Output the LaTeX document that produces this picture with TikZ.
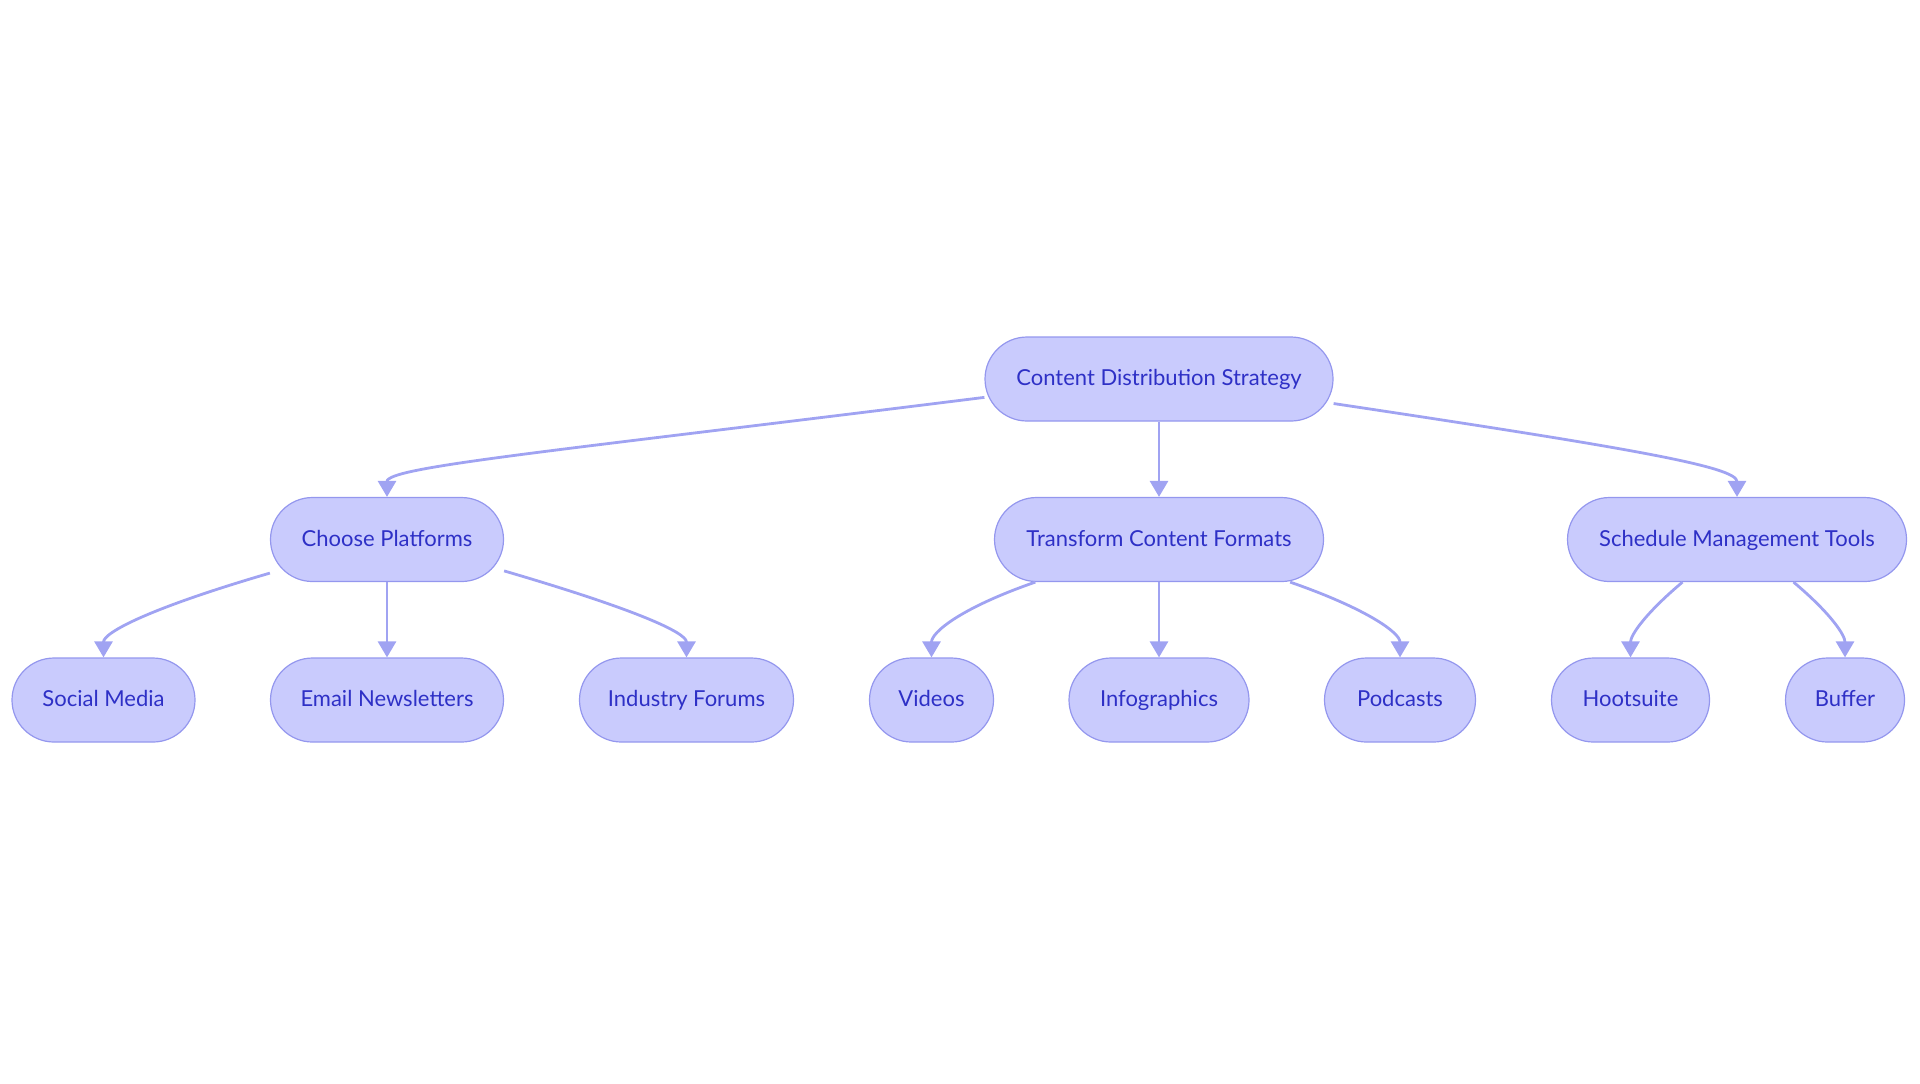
\documentclass[tikz,border=0pt]{standalone}
\usepackage{fontspec}
\setmainfont{Lato}
\usetikzlibrary{arrows.meta}
\definecolor{boxfill}{HTML}{C9CBFD}
\definecolor{boxline}{HTML}{9497EE}
\definecolor{boxtext}{HTML}{2E30C6}
\definecolor{linkcol}{HTML}{A0A3F2}

\begin{document}
\begin{tikzpicture}[x=0.5pt,y=-0.5pt,
	box/.style={draw=boxline,fill=boxfill,text=boxtext,line width=0.6pt,rounded corners=21pt,minimum height=42pt,inner sep=0pt,text height=9.2pt,text depth=2.5pt,font=\fontsize{11}{13}\selectfont},
	link/.style={draw=linkcol,line width=1.4pt,-{Triangle[length=8pt,width=9pt]}}]
	\useasboundingbox (0,0) rectangle (1920,1083);
	% top
	\node[box,minimum width=174pt] (root) at (1159,379) {Content Distribution Strategy};
	% second row
	\node[box,minimum width=116.5pt] (plat) at (387,539.5) {Choose Platforms};
	\node[box,minimum width=164.5pt] (formats) at (1159,539.5) {Transform Content Formats};
	\node[box,minimum width=169.5pt] (tools) at (1737,539.5) {Schedule Management Tools};
	% third row
	\node[box,minimum width=91.5pt] (social) at (103.5,700) {Social Media};
	\node[box,minimum width=116.5pt] (email) at (387,700) {Email Newsletters};
	\node[box,minimum width=107pt] (forums) at (686.5,700) {Industry Forums};
	\node[box,minimum width=62pt] (videos) at (931.5,700) {Videos};
	\node[box,minimum width=90pt] (info) at (1159,700) {Infographics};
	\node[box,minimum width=75.5pt] (pods) at (1400,700) {Podcasts};
	\node[box,minimum width=79pt] (hoot) at (1630.5,700) {Hootsuite};
	\node[box,minimum width=59.5pt] (buffer) at (1845,700) {Buffer};

	\draw[link] (root.186) .. controls +(-440,55) and +(0,-30) .. (plat.north);
	\draw[link] (root.south) -- (formats.north);
	\draw[link] (root.352) .. controls +(300,45) and +(0,-30) .. (tools.north);
	\draw[link] (plat.196) .. controls +(-120,35) and +(0,-25) .. (social.north);
	\draw[link] (plat.south) -- (email.north);
	\draw[link] (plat.345) .. controls +(130,38) and +(0,-25) .. (forums.north);
	\draw[link] (formats.199) .. controls +(-75,26) and +(0,-25) .. (videos.north);
	\draw[link] (formats.south) -- (info.north);
	\draw[link] (formats.342) .. controls +(75,26) and +(0,-25) .. (pods.north);
	\draw[link] (tools.218) .. controls +(-38,32) and +(0,-22) .. (hoot.north);
	\draw[link] (tools.323) .. controls +(38,32) and +(0,-22) .. (buffer.north);
\end{tikzpicture}
\end{document}
